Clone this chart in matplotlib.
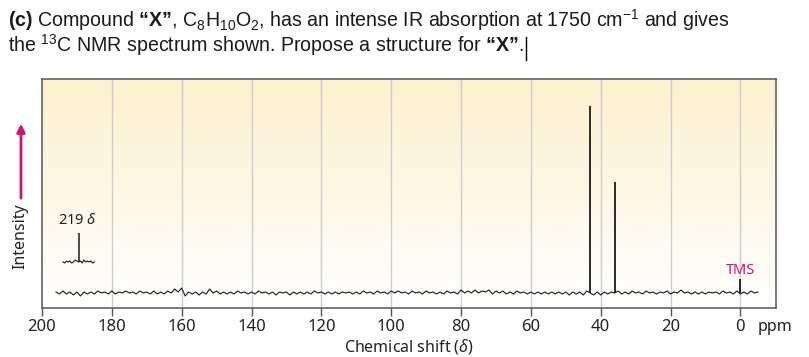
import numpy as np
import matplotlib.pyplot as plt
from matplotlib.colors import LinearSegmentedColormap

plt.rcParams['mathtext.fontset'] = 'custom'
plt.rcParams['mathtext.rm'] = 'Liberation Sans'
plt.rcParams['mathtext.bf'] = 'Liberation Sans:bold'
plt.rcParams['mathtext.it'] = 'Noto Sans:italic'

# baseline noise of the spectrum, one value per ppm from 196 down to -5
base_shift = np.arange(196, -6, -1)
base_noise = [1, -1, 2, -1, 1, -2, 1, -3, 1, -1,
              1, -1, 2, 0, 1, -1, 2, -1, 1, 0,
              2, 0, 1, -1, 2, 0, 1, -1, 2, -1,
              1, -1, 2, 0, 4, 1, 5, -3, 1, -1,
              1, -2, 1, -1, 4, 0, 2, -1, 1, -1,
              1, -1, 2, 0, 1, -1, 1, -1, 2, 0,
              1, -1, 1, -2, 1, 0, 1, -2, 1, -1,
              1, -1, 1, -1, 2, 0, 1, -1, 1, -1,
              1, -1, 1, 0, 1, -1, 1, -1, 2, 0,
              1, -1, 2, 0, 1, -1, 2, 0, 2, 0,
              1, -1, 2, 0, 1, -1, 2, 0, 1, -1,
              1, -1, 2, 0, 1, -1, 3, 0, 2, 0,
              3, 0, 2, 1, 3, -1, 2, 0, 2, -1,
              1, -1, 2, 0, 1, -1, 1, -1, 1, -1,
              1, -1, 1, -1, 1, -1, 1, -2, 1, -1,
              1, -2, 2, 0, -2, 1, -2, 1, -1, 1,
              0, 2, -1, 1, -1, 2, 0, 1, -1, 2,
              0, 1, -1, 1, 0, 2, -1, 1, 0, 3,
              0, 1, -1, 1, -1, 1, -1, 1, 0, 1,
              -1, 2, 0, 1, -1, 2, -1, 1, -1, 2,
              0, 1]

# main peaks
peak_shift = [43.0, 35.8, 0.0]
peak_height = [187, 111, 14]

# inset showing the 219 ppm carbonyl signal
inset_shift = np.arange(194, 184.9, -0.5)
inset_noise = [0, -1, 1, 0, 1, -1, 0, 2, 1, 0, 1, -1, 2, 0, 1, 0, 1, -1, 0]
inset_base = 31
inset_peak_shift = 189.4
inset_peak_height = 29

ticks = [200, 180, 160, 140, 120, 100, 80, 60, 40, 20, 0]

magenta = '#d0107a'

fig = plt.figure(figsize=(8.09, 3.57), dpi=100)
ax = fig.add_axes([42 / 809, 1 - 308 / 357, 734 / 809, 229 / 357])

cmap = LinearSegmentedColormap.from_list('bg', ['#ffffff', '#fcf0cd'])
grad = np.linspace(0, 1, 256).reshape(-1, 1)
ax.imshow(grad, cmap=cmap, origin='lower', aspect='auto',
          extent=[0, 1, 0, 1], transform=ax.transAxes, zorder=0)

ax.set_xlim(200, -10.2)
ax.set_ylim(-15, 214)

for t in ticks[1:]:
    ax.axvline(t, color='#cdcdcd', lw=1, zorder=1)

ax.plot(base_shift, base_noise, color='#1a1a1a', lw=0.8, zorder=3)
ax.vlines(peak_shift, 0, peak_height, color='#1a1a1a', lw=1.3, zorder=3)

ax.plot(inset_shift, np.array(inset_noise) + inset_base, color='#1a1a1a', lw=0.8, zorder=3)
ax.vlines(inset_peak_shift, inset_base, inset_base + inset_peak_height, color='#1a1a1a', lw=1.1, zorder=3)
ax.text(189.8, 72, r'219 $\delta$', ha='center', va='center', fontsize=10.5,
        family='Noto Sans', color='#222222')
ax.text(0, 23, 'TMS', ha='center', va='center', fontsize=10.5,
        family='Noto Sans', color=magenta)

ax.set_xticks(ticks)
ax.set_xticklabels([str(t) for t in ticks], family='Noto Sans', fontsize=12, color='#222222')
ax.set_yticks([])
ax.tick_params(axis='x', direction='out', length=6, width=1, color='#555555', pad=2)
for s in ax.spines.values():
    s.set_color('#555555')
    s.set_linewidth(1.1)
ax.set_xlabel(r'Chemical shift ($\delta$)', family='Noto Sans', fontsize=11.5,
              color='#222222', labelpad=1)

fig.text(775 / 809, 1 - 327 / 357, 'ppm', ha='center', va='center',
         family='Noto Sans', fontsize=11.5, color='#222222')

# intensity arrow outside the axes
ax_arrow = fig.add_axes([0, 0, 1, 1], facecolor='none')
ax_arrow.set_axis_off()
ax_arrow.set_xlim(0, 809)
ax_arrow.set_ylim(357, 0)
ax_arrow.annotate('', xy=(21, 121), xytext=(21, 201),
                  arrowprops=dict(arrowstyle='-|>', color=magenta, lw=2,
                                  mutation_scale=12))
ax_arrow.text(20, 236, 'Intensity', rotation=90, ha='center', va='center',
              family='Noto Sans', fontsize=11.5, color='#222222')

line1 = (r'$\mathbf{(c)}$ Compound $\mathbf{“X”}$, C$_8$H$_{10}$O$_2$, '
         r'has an intense IR absorption at 1750 cm$^{-1}$ and gives')
line2 = r'the $^{13}$C NMR spectrum shown. Propose a structure for $\mathbf{“X”}$.'
ax_arrow.text(8, 27, line1, ha='left', va='baseline', family='Liberation Sans',
              fontsize=14.1, color='#1a1a1a')
ax_arrow.text(8, 52, line2, ha='left', va='baseline', family='Liberation Sans',
              fontsize=14.1, color='#1a1a1a')
ax_arrow.plot([526, 526], [37, 60], color='black', lw=1)

fig.savefig('out.png', dpi=100)
